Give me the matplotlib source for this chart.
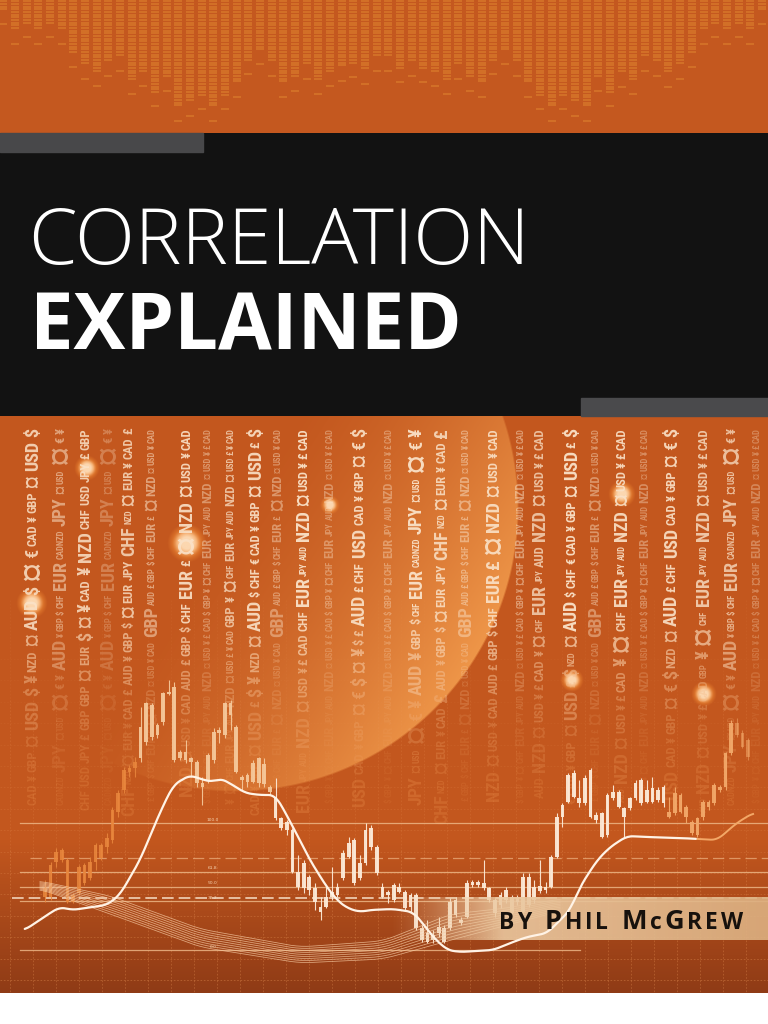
"""
Book cover: Correlation Explained (candlestick artwork).
"""
import os
import numpy as np
import matplotlib
matplotlib.use('Agg')
import matplotlib.pyplot as plt
from matplotlib import font_manager as fm
from matplotlib.collections import LineCollection
from matplotlib.patches import Rectangle
from matplotlib.textpath import TextPath

# ---------------- data read off the cover ----------------
# top "equalizer" pattern: depth (px) of each dash column
eq_depth = [10, 30, 23, 30, 23, 30, 53, 65, 72, 62, 57, 80, 72, 92, 77, 107, 102, 95, 107, 95, 83, 60, 50, 62, 83, 77, 65, 80, 72, 67, 63, 70, 57,
            57, 68, 62, 68, 72, 80, 65, 77, 83, 60, 50, 62, 83, 95, 107, 95, 102, 107, 77, 92, 73, 80, 57, 62, 73, 65, 53, 30, 23, 30, 23, 30, 10]

# candles (price units)
c_high = [120, 138, 152, 152, 142, 107, 135, 137, 143, 157,
          157, 167, 193, 210, 233, 235, 243, 293, 298, 297,
          277, 308, 320, 318, 250, 260, 243, 240, 223, 247,
          272, 273, 298, 300, 275, 225, 227, 240, 243, 242,
          215, 222, 183, 180, 172, 145, 140, 125, 117, 103,
          113, 133, 117, 150, 163, 162, 145, 177, 175, 155,
          117, 110, 117, 117, 110, 107, 107, 75, 80, 70,
          83, 75, 102, 103, 83, 120, 120, 120, 140, 113,
          102, 108, 113, 105, 105, 127, 127, 120, 140, 118,
          145, 187, 197, 227, 230, 220, 225, 232, 188, 188,
          207, 215, 210, 193, 203, 220, 222, 220, 223, 213,
          215, 203, 213, 207, 195, 180, 183, 200, 200, 217,
          215, 248, 280, 282, 270, 262]
c_top = [112, 135, 148, 150, 140, 105, 133, 135, 138, 155,
         155, 162, 190, 207, 230, 232, 238, 273, 297, 295,
         275, 307, 308, 313, 248, 248, 242, 238, 217, 245,
         268, 270, 297, 297, 273, 223, 225, 237, 242, 236,
         213, 203, 182, 178, 170, 128, 137, 123, 112, 93,
         103, 108, 113, 147, 157, 160, 137, 170, 172, 153,
         113, 108, 115, 113, 108, 105, 105, 72, 67, 65,
         73, 72, 98, 100, 80, 117, 118, 118, 117, 112,
         100, 105, 110, 103, 103, 123, 123, 113, 114, 113,
         143, 183, 195, 225, 227, 202, 222, 230, 185, 187,
         205, 208, 208, 192, 202, 217, 220, 210, 212, 210,
         213, 188, 207, 205, 193, 178, 182, 198, 198, 215,
         213, 247, 277, 277, 267, 260]
c_bot = [103, 103, 138, 140, 98, 98, 107, 117, 122, 138,
         142, 153, 160, 188, 210, 228, 232, 242, 258, 263,
         265, 278, 306, 240, 242, 240, 238, 217, 213, 220,
         240, 267, 265, 285, 228, 220, 218, 218, 217, 216,
         208, 182, 172, 170, 128, 113, 112, 110, 98, 88,
         93, 103, 105, 122, 143, 117, 122, 137, 153, 127,
         103, 105, 100, 108, 92, 93, 72, 60, 58, 60,
         67, 58, 72, 85, 77, 83, 115, 115, 112, 100,
         87, 95, 100, 87, 98, 88, 95, 100, 109, 110,
         113, 143, 183, 198, 203, 197, 197, 183, 180, 163,
         165, 202, 193, 183, 192, 202, 197, 198, 198, 200,
         197, 183, 187, 188, 183, 167, 165, 183, 193, 197,
         210, 213, 247, 265, 253, 243]
c_low = [98, 100, 133, 138, 97, 97, 105, 115, 120, 130,
         140, 147, 157, 183, 207, 223, 223, 238, 255, 260,
         262, 275, 305, 238, 240, 237, 223, 213, 195, 217,
         237, 257, 262, 270, 227, 210, 213, 217, 213, 213,
         205, 180, 170, 165, 127, 110, 107, 105, 90, 80,
         92, 100, 103, 120, 142, 115, 120, 135, 150, 125,
         102, 97, 98, 107, 90, 88, 70, 58, 57, 57,
         63, 57, 70, 83, 75, 82, 113, 113, 110, 98,
         83, 92, 97, 85, 95, 87, 93, 97, 107, 107,
         112, 142, 173, 197, 202, 193, 195, 182, 177, 162,
         163, 200, 192, 162, 190, 200, 195, 197, 197, 198,
         193, 182, 185, 187, 177, 165, 163, 180, 190, 195,
         208, 210, 245, 263, 252, 240]

# moving average (candle index, price)
ma_x = [-3.6, 0.9, 2.7, 4.8, 11.0, 13.3, 16.9, 20.4, 22.8, 25.8, 27.6, 29.9, 31.1, 33.4, 35.6,
        38.2, 40.9, 41.8, 44.1, 47.1, 50.1, 51.9, 53.7, 56.0, 57.8, 61.9, 65.4, 66.7, 69.0, 71.5,
        73.8, 79.7, 83.2, 85.7, 89.3, 93.4, 95.1, 98.2, 100.5, 103.5, 107.0, 112.9, 119.5, 123.0, 125.9]
ma_y = [70, 87, 93, 90, 95, 105, 140, 187, 215, 225, 221, 218, 222, 215, 207,
        205, 205, 197, 173, 140, 113, 100, 92, 88, 90, 91, 88, 80, 63, 50,
        48, 50, 58, 63, 67, 90, 113, 140, 153, 164, 163, 162, 160, 177, 187]

# ribbon of slow averages: centre and half spread
rb_x = [-0.9, 11.6, 27.6, 45.3, 60.1, 72.2, 80.9, 91.6]
rb_y = [115, 95, 62, 45, 50, 73, 82, 95]
rb_w = [4, 9, 9, 8, 9, 13, 9, 6]

# fibonacci retracement
fib_levels = [100.0, 61.8, 50.0, 38.2, 0.0]
fib_low, fib_high = 50, 177
dash_levels = [142, 102]

# currency columns: x, strength, tokens (bottom -> top)
F_COL = "GBP:L AUD:S £:S GBP:S $:S CHF:S EUR:M £:S ¤:L NZD:M ¤:S USD:S ¥:S CAD:S"
H_COL = "$:S GBP:S ¥:S ¤:M CHF:S EUR:M JPY:S AUD:S NZD:M ¤:S USD:S ¥:S £:S CAD:S"
B_COL = "AUD:L ¥:S GBP:S $:S CHF:S EUR:L CADNZD:S JPY:L ¤:M USD:S ¤:X €:M ¥:M"
columns = [
    (33, .85, "¥:L NZD:M ¤:L AUD:L $:L ¤:X €:L CAD:M ¥:M GBP:M ¤:L USD:L $:L"),
    (61, .55, B_COL),
    (86, .85, "GBP:M ¤:L EUR:M $:L ¤:L ¥:L CAD:M ¥:L NZD:L CHF:M USD:M JPY:M £:M GBP:M"),
    (109, .3, B_COL),
    (129, .8, "AUD:M ¥:M GBP:M $:M ¤:L EUR:M JPY:M CHF:L NZD:S ¤:L EUR:M ¥:M CAD:M £:M"),
    (152, .55, F_COL),
    (187, .9, "AUD:M £:M GBP:M $:M CHF:M EUR:L £:M ¤:X NZD:L ¤:L USD:M ¥:M CAD:M"),
    (208, .45, H_COL),
    (231, .75, "GBP:M ¥:M ¤:L CHF:S EUR:M JPY:S AUD:S NZD:M ¤:M USD:S £:S ¥:S CAD:S"),
    (256, .9, "¥:L NZD:M ¤:L AUD:L $:M CHF:M €:M CAD:M ¥:M GBP:M ¤:L USD:L £:M $:L"),
    (278, .45, F_COL),
    (304, .95, "CHF:M EUR:L JPY:S AUD:S NZD:L ¤:L USD:M ¥:M £:M CAD:M"),
    (330, .4, H_COL),
    (360, .9, "¤:L ¥:L $:M £:M AUD:L £:M CHF:M USD:L CAD:M ¥:M GBP:M ¤:L €:L $:L"),
    (389, .4, H_COL),
    (417, .95, "AUD:L ¥:L GBP:M $:M CHF:S EUR:L CADNZD:S JPY:L ¤:M USD:S ¤:X €:L ¥:L"),
    (442, .85, "AUD:M ¥:M GBP:M $:M ¤:L EUR:M JPY:M CHF:L NZD:S ¤:L EUR:M ¥:M CAD:M £:L"),
    (466, .5, F_COL),
    (494, .9, "AUD:M £:M GBP:M $:M CHF:M EUR:L £:L ¤:X NZD:L ¤:L USD:M ¥:M CAD:M"),
    (521, .5, H_COL),
    (540, .75, "¥:M ¤:L CHF:S EUR:L JPY:S AUD:M NZD:L ¤:L USD:M ¥:M £:M CAD:M"),
    (572, .95, "NZD:S ¤:L AUD:L $:M CHF:M €:M CAD:M ¥:M GBP:M ¤:L USD:L £:M $:L"),
    (596, .45, F_COL),
    (622, .9, "¥:L ¤:X CHF:M EUR:L JPY:S AUD:S NZD:L ¤:L USD:M ¥:M £:M CAD:M"),
    (645, .4, H_COL),
    (672, .9, "NZD:M ¤:L AUD:L £:M CHF:M USD:L CAD:M ¥:M GBP:M ¤:L €:L $:L"),
    (704, .8, "GBP:S ¥:L ¤:X CHF:S EUR:L JPY:S AUD:S NZD:L ¤:L USD:M ¥:M £:M CAD:M"),
    (732, .75, B_COL),
    (757, .35, H_COL),
]
glow_spots = [(32, 603, 16), (87, 468, 13), (187, 543, 20), (330, 505, 10),
              (572, 680, 12), (622, 494, 14), (704, 694, 13)]

# ---------------- fonts ----------------
def pick_font(names, family, weight):
    files = {os.path.basename(f.fname).lower(): f.fname for f in fm.fontManager.ttflist}
    for n in names:
        if n.lower() in files:
            return fm.FontProperties(fname=files[n.lower()])
    return fm.FontProperties(family=family, weight=weight)

title_light = pick_font(['NotoSans-SemiCondensedLight.ttf', 'NotoSans-CondensedLight.ttf',
                         'OpenSans-Light.ttf', 'RobotoCondensed-Light.ttf', 'Lato-Light.ttf'],
                        'Open Sans', 'light')
title_bold = pick_font(['NotoSans-SemiCondensedBold.ttf', 'NotoSans-CondensedBold.ttf',
                        'OpenSans-Bold.ttf', 'RobotoCondensed-Bold.ttf', 'Lato-Bold.ttf'],
                       'Open Sans', 'bold')
cond_bold = pick_font(['RobotoCondensed-Bold.ttf', 'NotoSans-CondensedBold.ttf',
                       'LiberationSansNarrow-Bold.ttf', 'DejaVuSansCondensed-Bold.ttf'],
                      'DejaVu Sans', 'bold')
author_font = pick_font(['OpenSans-Bold.ttf', 'NotoSans-Bold.ttf', 'OpenSans-SemiBold.ttf',
                         'Lato-Bold.ttf'], 'DejaVu Sans', 'bold')

# ---------------- canvas ----------------
W, H = 768, 1024
fig = plt.figure(figsize=(7.68, 10.24), dpi=100)
fig.patch.set_facecolor('white')
renderer = fig.canvas.get_renderer()

bg = fig.add_axes([0, 0, 1, 1], zorder=0)
bg.set_xlim(0, W)
bg.set_ylim(H, 0)
bg.axis('off')

def rgb(h):
    return np.array(matplotlib.colors.to_rgb(h))

yy, xx = np.mgrid[0:H, 0:W] + 0.5
img = np.ones((H, W, 3))
img[yy[:, 0] < 133] = rgb('#C4581F')
img[(yy[:, 0] >= 133) & (yy[:, 0] < 416)] = rgb('#121212')

# lower panel: vertical darkening + lit sphere
t = np.clip((yy - 840) / 153, 0, 1)[..., None]
low = (1 - t) * rgb('#C3571E') + t * rgb('#8F3B16')
cx, cy, r = 235, 508, 284
dx, dy = (xx - cx) / r, (yy - cy) / r
rr = np.hypot(dx, dy)
lit = np.clip(dx * 0.85 + dy * 0.53, 0, 1) ** 1.4
edge = np.clip((1 - rr) * r / 2.0, 0, 1)
s = (0.85 * lit * edge)[..., None]
low = low * (1 - s) + rgb('#F6A150') * s
mask = (yy[:, 0] >= 416) & (yy[:, 0] < 993)
img[mask] = low[mask]
bg.imshow(img, extent=(0, W, H, 0), interpolation='bilinear', zorder=0, aspect='auto')

# top dash pattern
segs = []
for k, d in enumerate(eq_depth):
    xc = 3.3 + 11.67 * k
    for y in np.arange(1.2, d, 2.67):
        segs.append([(xc - 4, y), (xc + 4, y)])
    segs.append([(xc - 4, d + 14), (xc + 4, d + 14)])
bg.add_collection(LineCollection(segs, colors='#D6752A', linewidths=1.15, zorder=1))

# grey bars
bg.add_patch(Rectangle((0, 133), 203, 18.5, color='#48484A', zorder=1))
bg.add_patch(Rectangle((581, 398), 187, 18, color='#4A4A4C', zorder=1))

# title
def fit_text(s, x, base, width, cap, fp):
    cap100 = TextPath((0, 0), 'H', prop=fp, size=100).get_extents().height * 100 / 72
    t = bg.text(x, base, s, fontproperties=fp, fontsize=100, color='white',
                ha='left', va='baseline', zorder=3)
    w100 = t.get_window_extent(renderer).width
    size = min(100 * width / w100, 100 * cap / cap100)
    t.set_fontsize(size)
    real_cap = cap100 * size / 100
    t.set_y(base - (cap - real_cap) / 2)
    return t

fit_text('CORRELATION', 28, 268, 502, 63, title_light)
fit_text('EXPLAINED', 30, 353, 432, 63, title_bold)

# faint grid in the chart area
for gx in np.arange(10, W, 23):
    for y0, y1, a in [(600, 700, .10), (700, 850, .2), (850, 993, .35)]:
        bg.plot([gx, gx], [y0, y1], color='#EE9A5C', lw=0.6, alpha=a, ls=(0, (2, 2)), zorder=1)
for k, gy in enumerate(np.arange(980, 640, -21.4)):
    bg.plot([0, W], [gy, gy], color='#EE9A5C', lw=0.6, alpha=max(.08, .4 - .025 * k),
            ls=(0, (2, 2)), zorder=1)

# glowing coins
g = np.linspace(-1, 1, 81)
GX, GY = np.meshgrid(g, g)
GR = np.hypot(GX, GY)
glow = np.zeros((81, 81, 4))
mix = np.clip((GR - 0.3) / 0.45, 0, 1)[..., None]
glow[..., :3] = (1 - mix) * rgb('#FCD7B0') + mix * rgb('#F08A35')
glow[..., 3] = np.clip((1 - GR) / 0.5, 0, 1) ** 1.1
for gx, gy, gr in glow_spots:
    bg.imshow(glow, extent=(gx - gr, gx + gr, gy + gr, gy - gr), zorder=2,
              interpolation='bilinear', aspect='auto')

# currency text columns
SIZES = {'S': 6.2, 'M': 9.0, 'L': 13.0, 'X': 19}
TXT, TXT_LOW = rgb('#FAE2C8'), rgb('#EE9550')
for x, a, spec in columns:
    seq = [tok.rsplit(':', 1) for tok in spec.split()][::-1]
    y, k = 428, 0
    while y < 800:
        word, key = seq[k % len(seq)]
        k += 1
        fade = float(np.clip(1 - (y - 600) / 170, 0.0, 1))
        col = fade * TXT + (1 - fade) * TXT_LOW
        tx = bg.text(x, y, word, rotation=90, ha='center', va='top', fontproperties=cond_bold,
                     fontsize=SIZES[key], color=col, alpha=a * max(fade, 0.3), zorder=3)
        y += tx.get_window_extent(renderer).height + 0.3 * SIZES[key]

bg.set_xlim(0, W)
bg.set_ylim(H, 0)

# ---------------- chart layer ----------------
ax = fig.add_axes([0, 0, 1, 1], zorder=1)
ax.patch.set_alpha(0)
ax.axis('off')
STEP, X0 = 5.624, 45.0

def xi(px):
    return (px - X0) / STEP

def pr(py):
    return 1000 - py

idx = np.arange(len(c_high))

# fibonacci lines
for lv in fib_levels:
    p = fib_low + lv / 100 * (fib_high - fib_low)
    x_end = xi(580) if lv == 0 else xi(768)
    ax.plot([xi(20), x_end], [p, p], color='#F0BC8C', lw=0.9, alpha=.8, zorder=2)
    ax.text(xi(213), p + 1.2, f'{lv:.1f}', fontsize=3.2, color='#F6D2AE', ha='center',
            va='bottom', zorder=2)
ax.plot([xi(30), xi(768)], [dash_levels[0]] * 2, color='#EBAE7C', lw=0.9, alpha=.75,
        ls=(0, (9, 4)), zorder=2)
ax.plot([xi(12), xi(768)], [dash_levels[1]] * 2, color='#F8E2CA', lw=1.2, alpha=.9,
        ls=(0, (7, 3)), zorder=2)

# candles
tone = np.where(idx < 17, '#E9873D', np.where(idx < 41, '#F5C799',
                np.where(idx < 111, '#FCE9D6', '#F2A869')))
alpha = np.where(idx < 17, .85, np.where(idx > 122, .55, .95))
heights = np.maximum(np.array(c_top) - np.array(c_bot), 1.2)
for i in idx:
    ax.vlines(i, c_low[i], c_high[i], color=tone[i], lw=0.8, alpha=alpha[i], zorder=3)
    ax.bar(i, heights[i], bottom=c_bot[i], width=0.66, color=tone[i], alpha=alpha[i],
           linewidth=0, zorder=3)

def smooth(xs, ys, k=11, n=500):
    gx = np.linspace(xs[0], xs[-1], n)
    gy = np.interp(gx, xs, ys)
    pad = np.pad(gy, k, mode='edge')
    gy = np.convolve(pad, np.ones(k) / k, mode='same')[k:-k]
    return gx, gy

# ribbon
rx, ry = smooth(rb_x, rb_y, k=25)
_, rw = smooth(rb_x, rb_w, k=25)
for off in np.linspace(-1, 1, 9):
    ax.plot(rx, ry + off * rw, color='#F7CCA4', lw=0.55, alpha=.75, zorder=4)

# author band
band = np.zeros((2, 400, 4))
u = np.linspace(0, 1, 400)
band[..., :3] = ((1 - u)[:, None] * rgb('#F1D3AE') + u[:, None] * rgb('#DDB182'))[None]
band[..., 3] = np.clip(u / 0.3, 0, 1) ** 1.2 * 0.9
ax.imshow(band, extent=(xi(390), xi(768), pr(940), pr(897)), aspect='auto',
          interpolation='bilinear', zorder=5)

# moving average
mx, my = smooth(ma_x, ma_y, k=9)
cut = mx <= 116
ax.plot(mx[cut], my[cut], color='#FFF3E6', lw=1.6, zorder=6, solid_capstyle='round')
ax.plot(mx[~cut], my[~cut], color='#F3A867', lw=1.4, zorder=6)

ax.set_xlim(xi(0), xi(W))
ax.set_ylim(pr(H), pr(0))

# author line: small caps with larger initials
author = [('B', 16.5), ('Y', 16.5), (' ', 0), ('P', 19.5), ('H', 16.5), ('I', 16.5), ('L', 16.5),
          (' ', 0), ('M', 19.5), ('c', 16.5), ('G', 19.5), ('R', 16.5), ('E', 16.5), ('W', 16.5)]
glyphs, total = [], 0
for ch, sz in author:
    if ch == ' ':
        glyphs.append(None)
        continue
    t = ax.text(0, 929, ch, transform=bg.transData, fontproperties=author_font, fontsize=sz,
                color='#17110D', ha='left', va='baseline', zorder=7)
    w = t.get_window_extent(renderer).width
    glyphs.append((t, w))
    total += w
n_gap = len(author) - 1
space_extra = 7
track = (244 - total - 2 * space_extra) / n_gap
xpos = 499
for item in glyphs:
    if item is None:
        xpos += space_extra + track
        continue
    t, w = item
    t.set_x(xpos)
    xpos += w + track

fig.savefig('out.png', dpi=100, facecolor='white')
